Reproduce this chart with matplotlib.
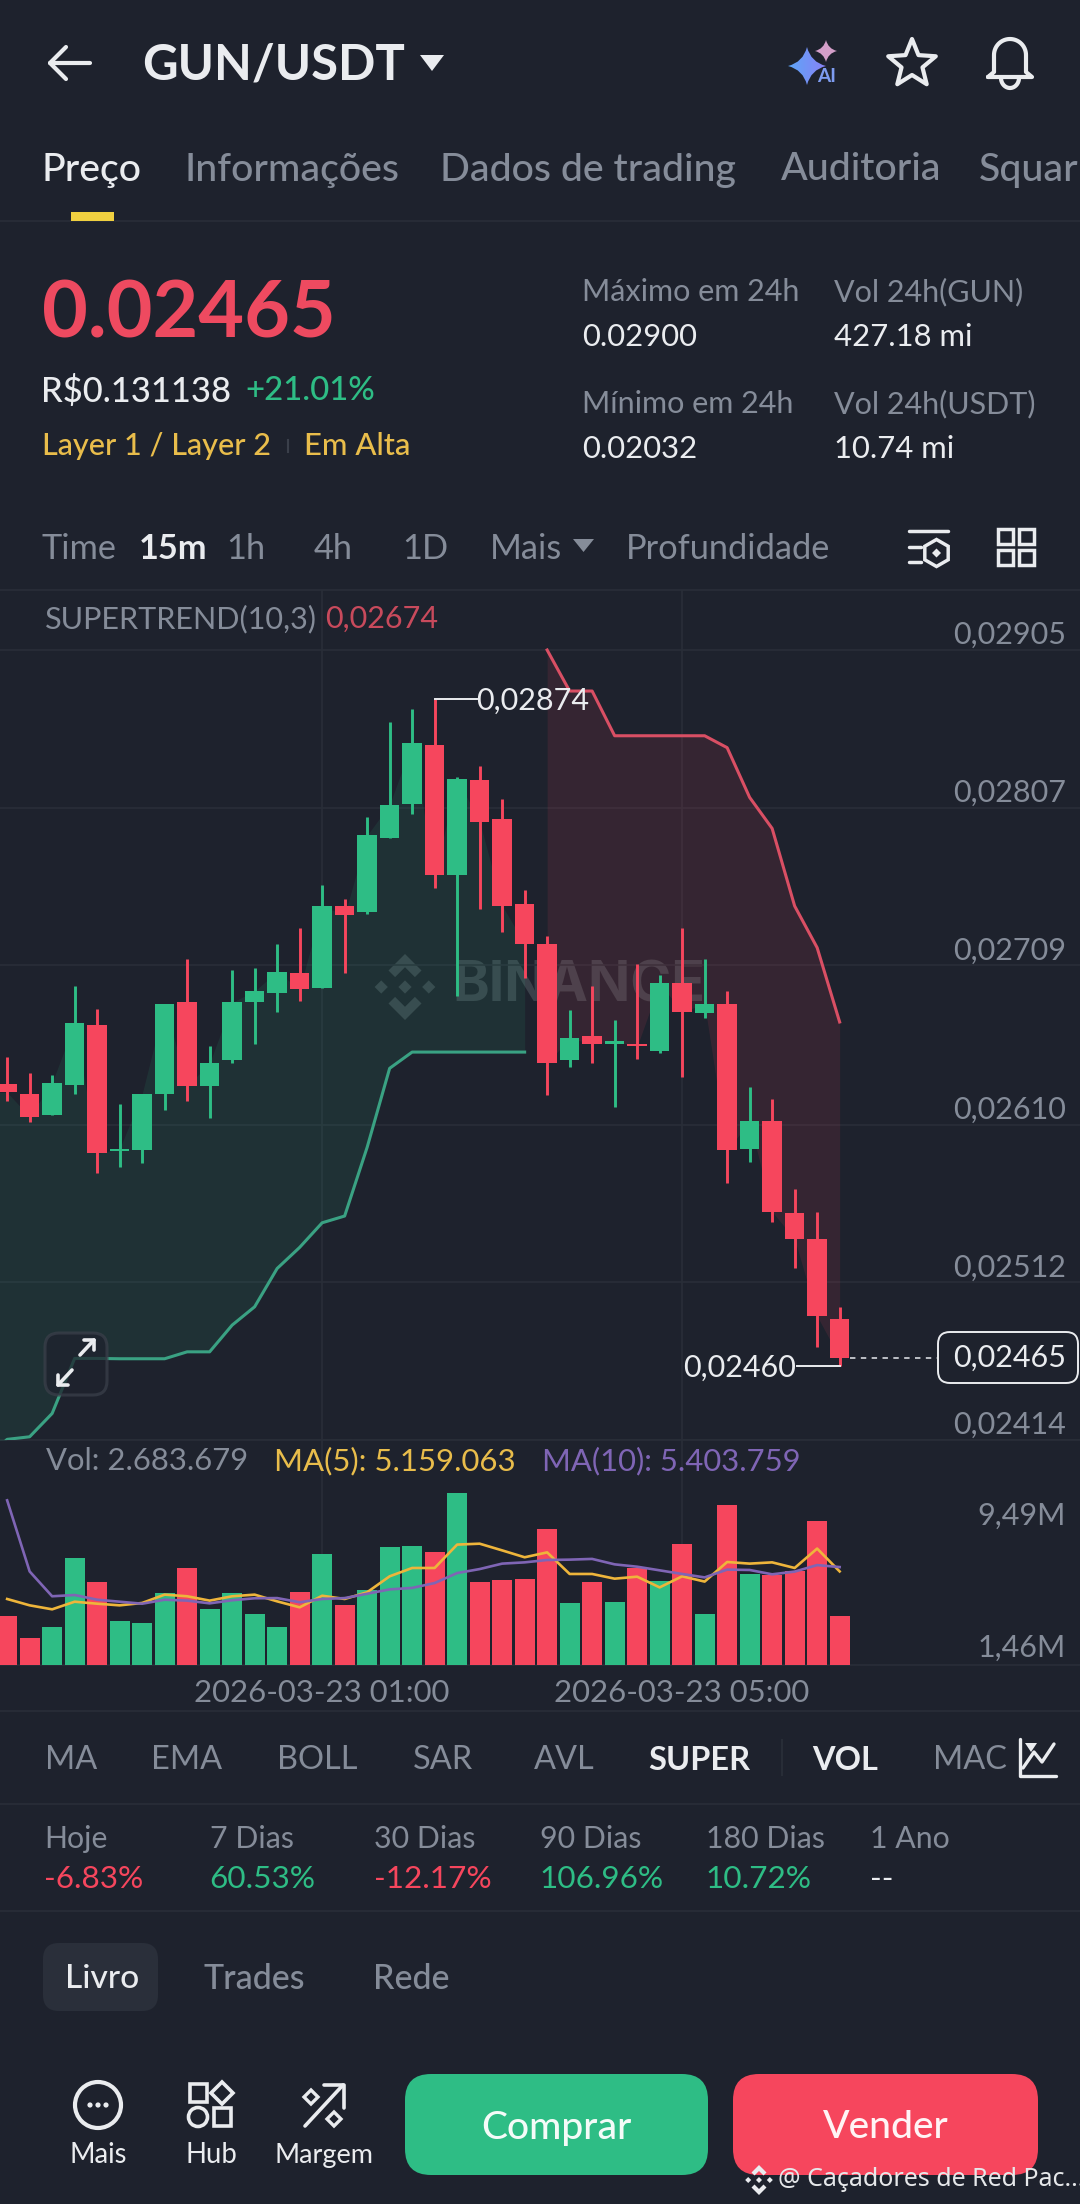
import numpy as np
import matplotlib
matplotlib.use('Agg')
import matplotlib.pyplot as plt
from matplotlib.patches import Circle, FancyBboxPatch, PathPatch, Polygon, Rectangle
from matplotlib.path import Path

plt.rcParams['font.family'] = ['Lato', 'DejaVu Sans']

BG = '#1e222d'
GREEN = '#2ebd85'
RED = '#f6465d'
GRAY = '#858c99'
WHITE = '#eaecef'
YELLOW = '#e9bd4b'
PURPLE = '#7f65b5'
GRID = '#292e38'

# 15m candles, oldest first
opens = [0.026352, 0.026290, 0.026160, 0.026344, 0.026719, 0.025934, 0.025940, 0.026290, 0.026860, 0.026340,
         0.026501, 0.026860, 0.026920, 0.027040, 0.026951, 0.027459, 0.027419, 0.027881, 0.028093, 0.028462,
         0.027651, 0.028240, 0.028000, 0.027471, 0.027220, 0.026501, 0.026648, 0.026603, 0.026601, 0.026559,
         0.026978, 0.026792, 0.026850, 0.025950, 0.026120, 0.025550, 0.025389, 0.024889]
closes = [0.026300, 0.026149, 0.026361, 0.026729, 0.025921, 0.025950, 0.026290, 0.026850, 0.026340, 0.026481,
          0.026860, 0.026930, 0.027051, 0.026941, 0.027459, 0.027401, 0.027898, 0.028089, 0.028470, 0.027651,
          0.028250, 0.027983, 0.027461, 0.027223, 0.026481, 0.026638, 0.026601, 0.026617, 0.026586, 0.026978,
          0.026802, 0.026850, 0.025940, 0.026120, 0.025559, 0.025389, 0.024910, 0.024651]
highs = [0.026522, 0.026419, 0.026408, 0.026961, 0.026818, 0.026228, 0.026290, 0.026850, 0.027129, 0.026588,
         0.027061, 0.027071, 0.027223, 0.027320, 0.027589, 0.027500, 0.028010, 0.028600, 0.028681, 0.028743,
         0.028259, 0.028331, 0.028122, 0.027558, 0.027272, 0.026812, 0.026961, 0.026750, 0.027098, 0.027030,
         0.027320, 0.027129, 0.026930, 0.026332, 0.026259, 0.025700, 0.025559, 0.024968]
lows = [0.026249, 0.026118, 0.026160, 0.026290, 0.025797, 0.025838, 0.025859, 0.026191, 0.026249, 0.026139,
        0.026481, 0.026601, 0.026800, 0.026868, 0.026951, 0.027040, 0.027409, 0.027881, 0.028031, 0.027573,
        0.026899, 0.027440, 0.027299, 0.027009, 0.026284, 0.026460, 0.026481, 0.026211, 0.026508, 0.026543,
        0.026398, 0.026760, 0.025739, 0.025870, 0.025497, 0.025209, 0.024720, 0.024601]

# supertrend, green part starts one candle left of the screen
st_up = [0.024015, 0.024144, 0.024160, 0.024305, 0.024647, 0.024647, 0.024645, 0.024645, 0.024645, 0.024688,
         0.024688, 0.024854, 0.024968, 0.025206, 0.025337, 0.025490, 0.025532, 0.025959, 0.026450, 0.026551,
         0.026551, 0.026551, 0.026551, 0.026551, 0.026551]
st_down = [0.029050, 0.028795, 0.028795, 0.028517, 0.028517, 0.028517, 0.028517, 0.028517, 0.028443, 0.028134,
           0.027941, 0.027459, 0.027200, 0.026738]

# volume in millions
volumes = [2.68, 1.49, 2.10, 5.88, 4.58, 2.44, 2.32, 3.99, 5.35, 3.11, 3.99, 2.79, 2.10, 4.03, 6.12, 3.31, 4.12,
           6.49, 6.58, 6.23, 9.49, 4.56, 4.69, 4.72, 7.52, 3.40, 4.60, 3.47, 5.35, 4.61, 6.69, 2.81, 8.82, 5.00,
           4.98, 5.17, 7.92, 2.68]
ma5 = [3.64, 3.29, 3.07, 3.49, 3.38, 3.29, 3.42, 3.88, 3.79, 3.55, 3.79, 3.88, 3.51, 3.18, 3.82, 3.64, 4.01, 4.89,
       5.35, 5.35, 6.64, 6.69, 6.32, 5.94, 6.21, 5.02, 5.02, 4.76, 4.87, 4.28, 4.89, 4.60, 5.68, 5.59, 5.66, 5.35,
       6.42, 5.16]
ma10 = [9.08, 5.16, 3.79, 3.86, 3.60, 3.49, 3.38, 3.60, 3.55, 3.40, 3.57, 3.68, 3.69, 3.46, 3.64, 3.69, 3.93, 4.17,
        4.25, 4.52, 5.07, 5.29, 5.59, 5.66, 5.79, 5.81, 5.85, 5.55, 5.42, 5.22, 5.02, 4.83, 5.26, 5.24, 5.00, 5.15,
        5.51, 5.40]

price_ticks = [0.02905, 0.02807, 0.02709, 0.02610, 0.02512, 0.02414]
price_labels = ['0,02905', '0,02807', '0,02709', '0,02610', '0,02512', '0,02414']

tabs = ['Preço', 'Informações', 'Dados de trading', 'Auditoria', 'Squar']
tab_x = [43, 186, 441, 782, 980]
intervals = ['Time', '15m', '1h', '4h', '1D', 'Mais', 'Profundidade']
interval_x = [43, 140, 228, 315, 404, 491, 627]
indicators = ['MA', 'EMA', 'BOLL', 'SAR', 'AVL', 'SUPER', 'VOL']
indicator_x = [46, 152, 278, 414, 535, 650, 814]
periods = ['Hoje', '7 Dias', '30 Dias', '90 Dias', '180 Dias', '1 Ano']
period_values = ['-6.83%', '60.53%', '-12.17%', '106.96%', '10.72%', '--']
period_colors = [RED, GREEN, RED, GREEN, GREEN, WHITE]
period_x = [46, 211, 376, 541, 707, 872]

W, H = 1080, 2204
fig = plt.figure(figsize=(W / 100, H / 100), dpi=100, facecolor=BG)


def pane(top, bottom, z):
    ax = fig.add_axes([0, 1 - bottom / H, 1, (bottom - top) / H], zorder=z)
    ax.patch.set_alpha(0)
    return ax


# pixel layers for the app chrome, one under and one over the chart
back = pane(0, H, 0)
front = pane(0, H, 5)
for a in (back, front):
    a.set_xlim(0, W)
    a.set_ylim(H, 0)
    a.axis('off')


def txt(x, y, s, px, color=GRAY, weight='normal', ha='left', ax=front, **kw):
    if ha == 'left':
        x -= 1.5
    return ax.text(x, y + 2, s, fontsize=px * 0.72, color=color, fontweight=weight, ha=ha, va='center', **kw)


def hline(y, x0=0, x1=W, color=GRID, lw=1.2):
    back.plot([x0, x1], [y, y], color=color, lw=lw, solid_capstyle='butt')


def stroke(pts, color=WHITE, lw=3, ax=front, **kw):
    pts = np.array(pts)
    ax.plot(pts[:, 0], pts[:, 1], color=color, lw=lw, solid_capstyle='round', solid_joinstyle='round', **kw)


def diamond(x, y, r, ax=front, fc='none', ec=WHITE, lw=2.2):
    ax.add_patch(Polygon([(x, y - r), (x + r, y), (x, y + r), (x - r, y)], closed=True, fc=fc, ec=ec, lw=lw))


def round_box(x0, y0, x1, y1, r, fc, ec='none', lw=0, ax=front, alpha=None):
    ax.add_patch(FancyBboxPatch((x0 + r, y0 + r), x1 - x0 - 2 * r, y1 - y0 - 2 * r,
                                boxstyle='round,pad=%f,rounding_size=%f' % (r, r), fc=fc, ec=ec, lw=lw, alpha=alpha))


def binance_logo(cx, cy, s, color, ax):
    diamond(cx, cy, s * 0.2, ax, fc=color, ec='none', lw=0)
    diamond(cx - s * 0.72, cy, s * 0.2, ax, fc=color, ec='none', lw=0)
    diamond(cx + s * 0.72, cy, s * 0.2, ax, fc=color, ec='none', lw=0)
    for d in (-1, 1):
        ax.add_patch(Polygon([(cx, cy + d * s), (cx + s * 0.5, cy + d * s * 0.5), (cx + s * 0.3, cy + d * s * 0.3),
                              (cx, cy + d * s * 0.6), (cx - s * 0.3, cy + d * s * 0.3),
                              (cx - s * 0.5, cy + d * s * 0.5)], closed=True, fc=color, ec='none'))


def star4(cx, cy, r):
    k = 0.2 * r
    codes = [Path.MOVETO] + [Path.CURVE3, Path.CURVE3] * 4
    pts = [(cx, cy - r), (cx + k, cy - k), (cx + r, cy), (cx + k, cy + k), (cx, cy + r), (cx - k, cy + k),
           (cx - r, cy), (cx - k, cy - k), (cx, cy - r)]
    return Path(pts, codes)


# header
stroke([(50, 63), (90, 63)])
stroke([(66, 47), (50, 63), (66, 79)])
txt(144, 63, 'GUN/USDT', 49, WHITE, 'bold')
front.add_patch(Polygon([(420, 55), (444, 55), (432, 71)], closed=True, fc=WHITE, ec='none'))

grad = np.linspace(0, 1, 64).reshape(1, -1)
cm = matplotlib.colors.LinearSegmentedColormap.from_list('ai', ['#5aa8f8', '#8f7cf5'])
im = front.imshow(grad, extent=(785, 832, 90, 42), cmap=cm, aspect='auto', zorder=3)
im.set_clip_path(PathPatch(star4(807, 66, 19), transform=front.transData))
front.add_patch(PathPatch(star4(826, 51, 11), fc='#d49fc9', ec='none'))
txt(827, 75, 'AI', 19, '#7e9cf0', 'bold', 'center', zorder=4)
front.set_xlim(0, W)
front.set_ylim(H, 0)

ang = np.pi / 2 + np.arange(10) * np.pi / 5
rad = np.where(np.arange(10) % 2 == 0, 25, 11)
front.add_patch(Polygon(np.c_[912 + rad * np.cos(ang), 64 - rad * np.sin(ang)], closed=True, fc='none', ec=WHITE,
                        lw=3, joinstyle='round'))
t = np.linspace(np.pi, 0, 30)
stroke(np.r_[[(988, 77)], [(994, 72)], np.c_[1010 + 16 * np.cos(t), 55 - 16 * np.sin(t)], [(1026, 72)], [(1032, 77)],
             [(988, 77)]])
t = np.linspace(np.pi, 2 * np.pi, 20)
stroke(np.c_[1010 + 9 * np.cos(t), 78 - 10 * np.sin(t)])

# tabs
for i, name in enumerate(tabs):
    txt(tab_x[i], 168, name, 39.2, WHITE if i == 0 else GRAY, 'medium')
hline(221)
front.add_patch(Rectangle((71, 212), 43, 9, fc='#f0d040', ec='none'))

# price block
txt(43, 313, '0.02465', 79, '#ee4a60', 'bold')
txt(43, 389, 'R$0.131138', 34.5, WHITE, 'medium')
txt(247, 389, '+21.01%', 33, GREEN, 'medium')
txt(43, 444, 'Layer 1 / Layer 2', 30.6, YELLOW, 'medium')
front.plot([288, 288], [440, 452], color='#3a3f4a', lw=1.5)
txt(305, 444, 'Em Alta', 31, YELLOW, 'medium')
txt(584, 290, 'Máximo em 24h', 30.5)
txt(584, 335, '0.02900', 31, WHITE)
txt(584, 402, 'Mínimo em 24h', 30.5)
txt(584, 447, '0.02032', 31, WHITE)
txt(835, 290, 'Vol 24h(GUN)', 30.5)
txt(835, 335, '427.18 mi', 31, WHITE)
txt(835, 402, 'Vol 24h(USDT)', 30.5)
txt(835, 447, '10.74 mi', 31, WHITE)

# interval row
for i, name in enumerate(intervals):
    txt(interval_x[i], 547, name, 34.4, WHITE if name == '15m' else GRAY, 'bold' if name == '15m' else 'normal')
front.add_patch(Polygon([(573, 539), (594, 539), (583.5, 552)], closed=True, fc=GRAY, ec='none'))
stroke([(909, 531), (948, 531)], lw=2.5)
stroke([(909, 547), (921, 547)], lw=2.5)
stroke([(909, 562), (921, 562)], lw=2.5)
ang = np.pi / 2 + np.arange(6) * np.pi / 3
front.add_patch(Polygon(np.c_[936.5 + 13.5 * np.cos(ang), 553 + 13.5 * np.sin(ang)], closed=True, fc='none', ec=WHITE,
                        lw=2.5))
diamond(936.5, 553, 4.5, fc=WHITE, lw=0)
for x0 in (998, 1019):
    for y0 in (529, 550):
        front.add_patch(Rectangle((x0, y0), 15, 15, fc='none', ec=WHITE, lw=2.5))
hline(590)

# main chart, candle i sits at 7.14 + 22.5 * i px
idx = np.arange(len(closes))
xlim = (-7.14 / 22.5, (W - 7.14) / 22.5)
px_per_price = 158 / 0.000982
ax = pane(590, 1440, 2)
ax.set_xlim(xlim)
ax.set_ylim(0.02905 - 790 / px_per_price, 0.02905 + 60 / px_per_price)
ax.axis('off')

colors = [GREEN if c >= o else RED for o, c in zip(opens, closes)]
for tick, label in zip(price_ticks, price_labels):
    ax.axhline(tick, color=GRID, lw=1.2, zorder=0)
    y = 650 + (0.02905 - tick) * px_per_price
    txt(1066, y - 17, label, 30.5, GRAY, ha='right')
for x in (14, 30):
    ax.axvline(x, color=GRID, lw=1.2, zorder=0)

binance_logo(405, 987, 33, '#3a414a', back)
back.text(452, 987, 'BINANCE', fontsize=40, color='#3a414a', fontweight='bold', family='Inter', va='center')

n_up = len(st_up) - 1
fill_x = np.r_[-1, idx[:n_up]]
ax.fill_between(fill_x, st_up, np.r_[closes[0], closes[:n_up]], color=GREEN, alpha=0.10, lw=0, zorder=1)
ax.fill_between(idx[n_up:], st_down, closes[n_up:], color=RED, alpha=0.11, lw=0, zorder=1)
ax.plot(fill_x, st_up, color='#3aa283', lw=2.2, zorder=2)
ax.plot(idx[n_up:], st_down, color='#d94f64', lw=2.2, zorder=2)

ax.vlines(idx, lows, highs, colors=colors, lw=2.1, zorder=3)
ax.bar(idx, np.array(closes) - np.array(opens), bottom=opens, width=0.87, color=colors, lw=0, zorder=4)

# annotations for highest, lowest and current price
hi = int(np.argmax(highs))
lo = int(np.argmin(lows))
ax.plot([hi, 20.88], [highs[hi], highs[hi]], color=WHITE, lw=1.4, zorder=5)
ax.plot([lo, 35.1], [lows[lo], lows[lo]], color=WHITE, lw=1.4, zorder=5)
txt(478, 699, '0,02874', 30.5, WHITE)
txt(685, 1366, '0,02460', 30.5, WHITE)
ax.plot([idx[-1] + 0.45, 41.4], [closes[-1], closes[-1]], color='#c9ccd2', lw=1.3, dashes=(3, 3), zorder=5)
round_box(938, 1332, 1078, 1383, 12, BG, WHITE, 1.4)
txt(1066, 1356, '0,02465', 30.5, WHITE, ha='right', zorder=6)

round_box(45, 1333, 107, 1395, 14, BG, '#3a3f4a', 2.2, alpha=0.75)
stroke([(80, 1355), (94, 1340)], lw=2.6)
stroke([(84, 1340), (94, 1340), (94, 1350)], lw=2.6)
stroke([(72, 1370), (58, 1385)], lw=2.6)
stroke([(58, 1375), (58, 1385), (68, 1385)], lw=2.6)

txt(46, 617, 'SUPERTREND(10,3)', 30.7, GRAY)
txt(327, 617, '0,02674', 30.5, '#c84a5c')

# volume pane
hline(1440)
ax2 = pane(1440, 1665, 2)
ax2.set_xlim(xlim)
ax2.set_ylim(0, 225 * 3 * 0.018381)
ax2.axis('off')
for x in (14, 30):
    ax2.axvline(x, color=GRID, lw=1.2, zorder=0)
ax2.bar(idx, volumes, width=0.89, color=colors, lw=0, zorder=2)
ax2.plot(idx, ma5, color='#eeb53b', lw=1.9, zorder=3)
ax2.plot(idx, ma10, color=PURPLE, lw=1.9, zorder=3)
hline(1665)
txt(47, 1459, 'Vol: 2.683.679', 31)
txt(275, 1459, 'MA(5): 5.159.063', 31.2, YELLOW)
txt(544, 1459, 'MA(10): 5.403.759', 31, PURPLE)
txt(1066, 1514, '9,49M', 30.5, ha='right')
txt(1066, 1646, '1,46M', 30.5, ha='right')
for x in (322, 682):
    txt(x, 1691, '2026-03-23 0%d:00' % (1 if x == 322 else 5), 31.2, ha='center')
hline(1711)

# indicator row
for i, name in enumerate(indicators):
    bold = name in ('SUPER', 'VOL')
    txt(indicator_x[i], 1758, name, 32.5, WHITE if bold else GRAY, 'bold' if bold else 'normal')
front.plot([782, 782], [1740, 1775], color=GRID, lw=1.4)
mac = txt(935, 1758, 'MACD', 32.5, GRAY)
mac.set_clip_on(True)
mac.set_clip_path(Rectangle((900, 1730), 108, 60, transform=front.transData))
stroke([(1020, 1739), (1020, 1776), (1056, 1776)], lw=2.4)
stroke([(1023, 1768), (1034, 1752), (1042, 1762), (1054, 1744)], lw=2.4)
front.add_patch(Polygon([(1025, 1743), (1037, 1743), (1031, 1752)], closed=True, fc=WHITE, ec='none'))
hline(1804)

# period performance
for i, name in enumerate(periods):
    txt(period_x[i], 1837, name, 30.3)
    txt(period_x[i], 1877, period_values[i], 31.5, period_colors[i])
hline(1911)

# order book tabs
round_box(43, 1943, 158, 2011, 16, '#2a2f3a')
txt(66, 1977, 'Livro', 33.5, WHITE, 'medium')
txt(205, 1977, 'Trades', 34, GRAY, 'medium')
txt(374, 1977, 'Rede', 34, GRAY, 'medium')

# bottom bar
front.add_patch(Circle((98, 2105), 23, fc='none', ec=WHITE, lw=3))
for dx in (-8, 0, 8):
    front.add_patch(Circle((98 + dx, 2105), 2.6, fc=WHITE, ec='none'))
front.add_patch(Rectangle((190, 2084), 17, 18, fc='none', ec=WHITE, lw=2.6))
diamond(222, 2093, 11, lw=2.6)
front.add_patch(Circle((198, 2117), 9.5, fc='none', ec=WHITE, lw=2.6))
front.add_patch(Rectangle((214, 2108), 17, 18, fc='none', ec=WHITE, lw=2.6))
stroke([(305, 2126), (343, 2085)], lw=2.6)
stroke([(324, 2085), (344, 2085), (344, 2108)], lw=2.6)
diamond(311, 2097, 7, lw=2.4)
diamond(334, 2119, 7, lw=2.4)
txt(98, 2153, 'Mais', 27.5, WHITE, ha='center')
txt(211, 2153, 'Hub', 27.5, WHITE, ha='center')
txt(324, 2153, 'Margem', 27, WHITE, ha='center')

round_box(405, 2074, 708, 2175, 26, GREEN)
round_box(733, 2074, 1038, 2175, 26, RED)
txt(556, 2126, 'Comprar', 39, '#f4fbf8', 'medium', 'center')
txt(886, 2126, 'Vender', 39, '#fff4f5', 'medium', 'center')

binance_logo(759, 2180, 15, WHITE, front)
front.text(778, 2180, '@ Caçadores de Red Pac...', fontsize=18, color='#e6e8ea', family='Noto Sans', va='center')

fig.savefig('out.png', dpi=100, facecolor=BG)
